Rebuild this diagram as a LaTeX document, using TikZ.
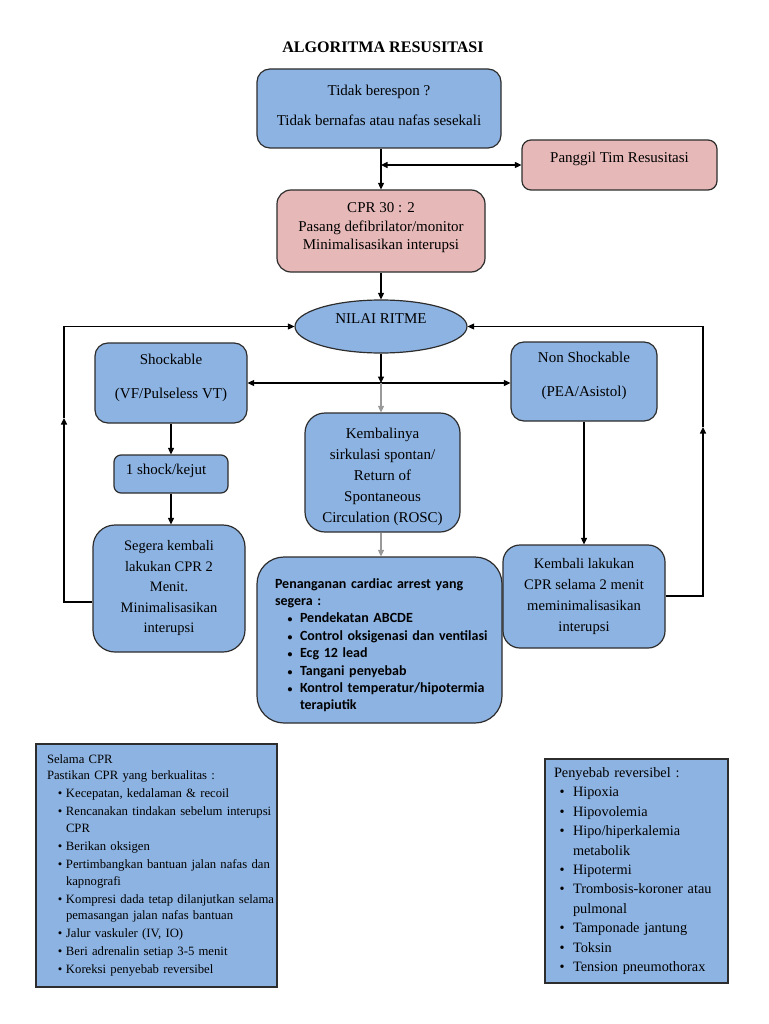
\documentclass[tikz,border=0pt]{standalone}
\usepackage{fontspec}
\setmainfont{Liberation Serif}
\newfontfamily\calfont{Carlito}
\usetikzlibrary{arrows.meta,shapes.geometric}
\definecolor{boxblue}{RGB}{141,179,226}
\definecolor{boxpink}{RGB}{230,185,184}
\definecolor{edgecol}{RGB}{45,45,45}
\newcommand\fs[2]{\fontsize{#1}{#2}\selectfont}
\newcommand\padlow[1]{\rule[-#1]{0pt}{#1}}
\newcommand\padtop[1]{\rule{0pt}{#1}}
\newcommand\bitem[3]{\mbox{\hspace*{#1}\makebox[0pt]{\textbullet}\hspace{#2}#3}}
\newcommand\sbitem[3]{\mbox{\hspace*{#1}\makebox[0pt]{\scalebox{0.7}{\textbullet}}\hspace{#2}#3}}
\newcommand\contline[2]{\mbox{\hspace*{#1}#2}}
\begin{document}
\begin{tikzpicture}[x=1pt,y=-1pt,
  box/.style={draw=edgecol,line width=1.2pt,align=center,inner sep=0pt,font=\fs{15}{19}},
  bluebox/.style={box,fill=boxblue},
  pinkbox/.style={box,fill=boxpink},
  conn/.style={draw=black,line width=1.1pt},
  arr/.style={conn,-{Triangle[length=6.5pt,width=6pt]}},
  darr/.style={conn,{Triangle[length=6.5pt,width=6pt]}-{Triangle[length=6.5pt,width=6pt]}},
  garr/.style={arr,draw=black!40}]
\fill[white] (0,0) rectangle (768,1024);
\useasboundingbox (0,0) rectangle (768,1024);

\node[font=\bfseries\fs{16.1}{19}] (title) at (383,47) {ALGORITMA RESUSITASI};

\node[bluebox,rounded corners=13pt,minimum width=244pt,minimum height=79pt] (resp) at (379,108.5)
  {Tidak berespon ?\\[11pt]Tidak bernafas atau nafas sesekali\padlow{7pt}};
\node[pinkbox,rounded corners=9pt,minimum width=195pt,minimum height=50pt] (panggil) at (619.5,165)
  {Panggil Tim Resusitasi\padlow{16pt}};
\node[pinkbox,rounded corners=14pt,minimum width=208pt,minimum height=82pt,font=\fs{15}{18.5}] (cpr) at (381,231)
  {CPR 30 : 2\\Pasang defibrilator/monitor\\Minimalisasikan interupsi\padlow{9pt}};
\node[bluebox,ellipse,minimum width=172pt,minimum height=53pt] (ritme) at (381,326.5)
  {NILAI RITME\padlow{16pt}};
\node[bluebox,rounded corners=13pt,minimum width=152pt,minimum height=80pt] (shock) at (171,383)
  {Shockable\\[15pt](VF/Pulseless VT)\padlow{13pt}};
\node[bluebox,rounded corners=13pt,minimum width=146pt,minimum height=79pt] (non) at (584,381.5)
  {Non Shockable\\[15pt](PEA/Asistol)\padlow{14pt}};
\node[bluebox,rounded corners=7pt,minimum width=114pt,minimum height=38pt] (oneshock) at (171,474)
  {1 shock/kejut\padlow{9pt}\hspace*{10pt}};
\node[bluebox,rounded corners=22pt,minimum width=152pt,minimum height=127pt,font=\fs{14.5}{20.5}] (segera) at (169,588.5)
  {Segera kembali\\lakukan CPR 2\\Menit.\\Minimalisasikan\\interupsi};
\node[bluebox,rounded corners=20pt,minimum width=155pt,minimum height=119pt,font=\fs{15}{21}] (rosc) at (382.5,472.5)
  {\padtop{19pt}Kembalinya\\sirkulasi spontan/\\Return of\\Spontaneous\\Circulation (ROSC)};
\node[bluebox,rounded corners=27pt,minimum width=245pt,minimum height=166pt,align=left,
      text width=209pt,inner xsep=18pt,font=\calfont\bfseries\fs{14}{17.4}] (pen) at (379.5,640)
  {\mbox{\padtop{20pt}Penanganan cardiac arrest yang}\\
   \mbox{segera :}\\
   \sbitem{15pt}{10pt}{Pendekatan ABCDE}\\
   \sbitem{15pt}{10pt}{Control oksigenasi dan ventilasi}\\
   \sbitem{15pt}{10pt}{Ecg 12 lead}\\
   \sbitem{15pt}{10pt}{Tangani penyebab}\\
   \sbitem{15pt}{10pt}{Kontrol temperatur/hipotermia}\\
   \contline{25pt}{terapiutik}};
\node[bluebox,rounded corners=17pt,minimum width=162pt,minimum height=103pt,font=\fs{14.6}{21.3}] (kembali) at (584,596.5)
  {Kembali lakukan\\CPR selama 2 menit\\meminimalisasikan\\interupsi};
\node[bluebox,minimum width=241pt,minimum height=243pt,align=left,text width=219pt,
      inner xsep=11pt,font=\fs{12.7}{16.5}] (selama) at (156.5,865.5)
  {\mbox{Selama CPR}\\
   \mbox{Pastikan CPR yang berkualitas :}\\[1.6pt]
   \bitem{13pt}{6pt}{Kecepatan, kedalaman \& recoil}\\[1.6pt]
   \bitem{13pt}{6pt}{Rencanakan tindakan sebelum interupsi}\\
   \contline{19pt}{CPR}\\[1.6pt]
   \bitem{13pt}{6pt}{Berikan oksigen}\\[1.6pt]
   \bitem{13pt}{6pt}{Pertimbangkan bantuan jalan nafas dan}\\
   \contline{19pt}{kapnografi}\\[1.6pt]
   \bitem{13pt}{6pt}{Kompresi dada tetap dilanjutkan selama}\\
   \contline{19pt}{pemasangan jalan nafas bantuan}\\[1.6pt]
   \bitem{13pt}{6pt}{Jalur vaskuler (IV, IO)}\\[1.6pt]
   \bitem{13pt}{6pt}{Beri adrenalin setiap 3-5 menit}\\[1.6pt]
   \bitem{13pt}{6pt}{Koreksi penyebab reversibel}};
\node[bluebox,minimum width=183pt,minimum height=224pt,align=left,text width=165pt,
      inner xsep=9pt,font=\fs{14.3}{19.4}] (penyebab) at (636.5,871)
  {\mbox{Penyebab reversibel :}\\
   \bitem{8pt}{11pt}{Hipoxia}\\
   \bitem{8pt}{11pt}{Hipovolemia}\\
   \bitem{8pt}{11pt}{Hipo/hiperkalemia}\\
   \contline{19pt}{metabolik}\\
   \bitem{8pt}{11pt}{Hipotermi}\\
   \bitem{8pt}{11pt}{Trombosis-koroner atau}\\
   \contline{19pt}{pulmonal}\\
   \bitem{8pt}{11pt}{Tamponade jantung}\\
   \bitem{8pt}{11pt}{Toksin}\\
   \bitem{8pt}{11pt}{Tension pneumothorax}};

\coordinate (cx) at (381,0);
\coordinate (j1) at (381,165);
\coordinate (j2) at (381,383);
\coordinate (L1) at (64,602);
\coordinate (L2) at (64,418);
\coordinate (R1) at (703,596);
\coordinate (R2) at (703,427);

\draw[arr] (resp.south -| cx) -- (cpr.north -| cx);
\draw[darr] (j1) -- (panggil.west);
\draw[arr] (cpr.south) -- (ritme.north);
\draw[arr] (ritme.south) -- (j2);
\draw[darr] (j2 -| shock.east) -- (j2 -| non.west);
\draw[garr] (j2) -- (j2 |- rosc.north);
\draw[arr] (shock.south) -- (shock.south |- oneshock.north);
\draw[arr] (oneshock.south) -- (oneshock.south |- segera.north);
\draw[garr] (j2 |- rosc.south) -- (j2 |- pen.north);
\draw[arr] (non.south) -- (kembali.north);
\draw[arr] (L1 -| segera.west) -- (L1) -- (L2);
\draw[arr] (L2) |- (ritme.west);
\draw[arr] (R1 -| kembali.east) -- (R1) -- (R2);
\draw[arr] (R2) |- (ritme.east);
\end{tikzpicture}
\end{document}
